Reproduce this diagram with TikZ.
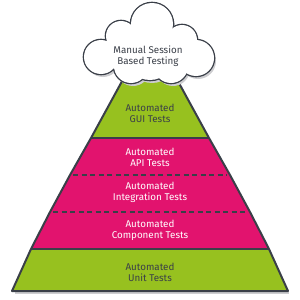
\documentclass[tikz,border=0pt]{standalone}
\usepackage{fontspec}
\setmainfont{Fira Sans}
\usetikzlibrary{calc}
\definecolor{limegreen}{RGB}{151,193,31}
\definecolor{testpink}{RGB}{226,19,110}
\definecolor{edgegray}{RGB}{58,63,72}
\definecolor{shadowgray}{RGB}{205,205,208}
\tikzset{
  layer/.style={draw=edgegray, line width=2pt, line join=round},
  divider/.style={edgegray, line width=1.6pt, dash pattern=on 5pt off 3.5pt},
  lbl/.style={font=\fontsize{9.8}{11}\selectfont, align=center, text=edgegray},
  lblw/.style={lbl, text=white},
}

\begin{document}
\begin{tikzpicture}[x=1pt, y=-1pt]
  \useasboundingbox (0,0) rectangle (300,300);
  \coordinate (A) at (150,30);
  \coordinate (L1) at (91,138);  \coordinate (R1) at (209,138);
  \coordinate (L2) at (70,175);  \coordinate (R2) at (230,175);
  \coordinate (L3) at (50,212);  \coordinate (R3) at (250,212);
  \coordinate (L4) at (31,249);  \coordinate (R4) at (269,249);
  \coordinate (L5) at (12,291);  \coordinate (R5) at (288,291);
  % layers of the pyramid
  \fill[limegreen] (A) -- (L1) -- (R1) -- cycle;
  \fill[testpink] (L1) -- (L2) -- (L3) -- (L4) -- (R4) -- (R3) -- (R2) -- (R1) -- cycle;
  \fill[limegreen] (L4) -- (L5) -- (R5) -- (R4) -- cycle;
  \draw[shadowgray, line width=2pt] ($(L5)+(3,2)$) -- ($(R5)+(1,2)$);
  \draw[layer] (A) -- (L1) -- (L2) -- (L3) -- (L4) -- (L5) -- (R5) -- (R4) -- (R3) -- (R2) -- (R1) -- cycle;
  \draw[layer] (L1) -- (R1) (L4) -- (R4);
  \draw[divider] ($(L2)+(3,0)$) -- ($(R2)+(-3,0)$) ($(L3)+(3,0)$) -- ($(R3)+(-3,0)$);
  % cloud on top
  \foreach \cx/\cy/\r in {101/57/17, 121/36/15, 152/24/21, 182/40/15, 196/58/18, 171/66/17, 131/66/17, 150/55/25}
    \fill[shadowgray] (\cx+2,\cy+3) circle (\r pt);
  \foreach \cx/\cy/\r in {101/57/17, 121/36/15, 152/24/21, 182/40/15, 196/58/18, 171/66/17, 131/66/17, 150/55/25}
    \draw[edgegray, line width=2.6pt] (\cx,\cy) circle (\r pt);
  \foreach \cx/\cy/\r in {101/57/17, 121/36/15, 152/24/21, 182/40/15, 196/58/18, 171/66/17, 131/66/17, 150/55/25}
    \fill[white] (\cx,\cy) circle (\r pt);
  \fill[white] (150,57) ellipse (47pt and 18pt);
  \node[lbl] (manual) at (148,56) {Manual Session\\Based Testing};
  \node[lbl] (gui) at (150,113) {Automated\\GUI Tests};
  \node[lblw] (api) at (150,157) {Automated\\API Tests};
  \node[lblw] (integration) at (150,192) {Automated\\Integration Tests};
  \node[lblw] (component) at (150,230) {Automated\\Component Tests};
  \node[lbl] (unit) at (150,272) {Automated\\Unit Tests};
\end{tikzpicture}
\end{document}
